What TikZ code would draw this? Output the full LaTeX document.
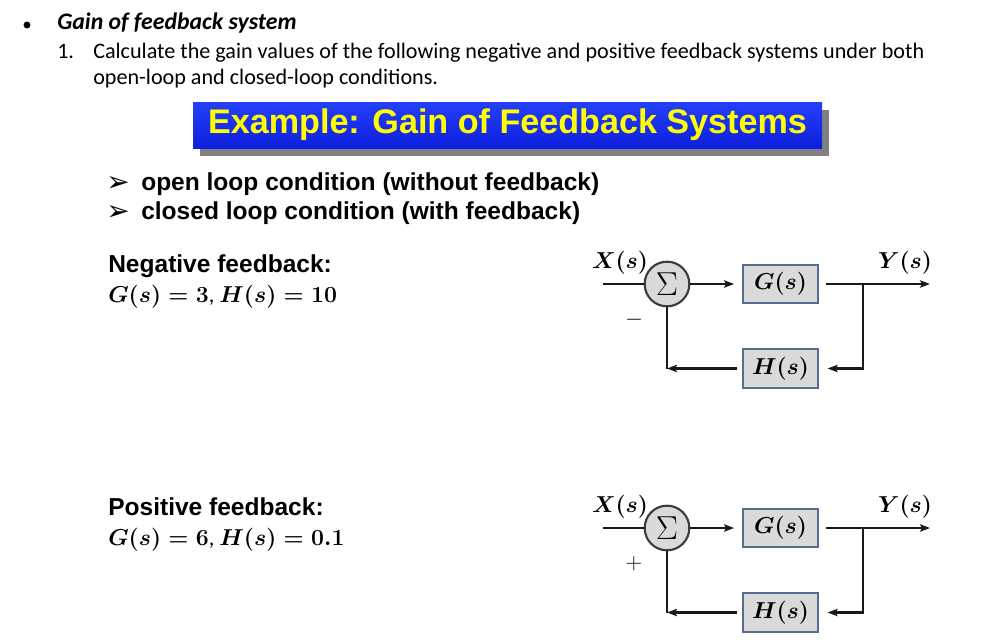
\documentclass[tikz,border=0pt]{standalone}
\usepackage[no-math]{fontspec}
\setmainfont{Carlito}
\newfontfamily\arialfont{Liberation Sans}
\newfontfamily\symbfont{DejaVu Sans}
\usetikzlibrary{arrows.meta, positioning, shadows, calc}
\definecolor{fbBlue}{RGB}{14,30,222}
\definecolor{fbBlueTop}{RGB}{36,64,248}
\definecolor{fbYellow}{RGB}{255,255,0}
\definecolor{fbShadow}{RGB}{128,128,128}
\definecolor{fbFill}{RGB}{218,218,218}
\definecolor{fbEdge}{RGB}{84,110,146}
\definecolor{fbLine}{RGB}{25,25,25}

\begin{document}
\begin{tikzpicture}[x=0.75pt, y=-0.75pt,
  txt/.style={anchor=base west, inner sep=0pt},
  body/.style={txt, font=\fontsize{16.6}{16.6}\selectfont},
  sans/.style={txt, font=\fontsize{18.4}{18.4}\selectfont\arialfont\bfseries},
  vals/.style={txt, font=\fontsize{16.6}{16.6}\selectfont\boldmath},
  block/.style={draw=fbEdge, line width=1.6pt, fill=fbFill, minimum width=56pt, minimum height=29pt, inner sep=0pt, font=\fontsize{17.5}{17.5}\selectfont\boldmath},
  sumnode/.style={circle, draw=fbLine!85, line width=1.6pt, fill=fbFill, minimum size=33.5pt, inner sep=0pt, font=\fontsize{27}{27}\selectfont},
  sig/.style={inner sep=0pt, font=\fontsize{16}{16}\selectfont\boldmath},
  wire/.style={line width=1.6pt, fbLine},
  arr/.style={wire, -{Stealth[length=7.5pt, width=5.5pt, inset=1.5pt]}}]

  \useasboundingbox (0,0) rectangle (998,643);

  % task text
  \fill (27,25) circle (2.6pt);
  \node[txt, font=\fontsize{17.8}{17.8}\selectfont\bfseries\itshape] (head) at (57,29) {Gain of feedback system};
  \node[body] (num) at (57,58) {1.};
  \node[body] (task1) at (93,58) {Calculate the gain values of the following negative and positive feedback systems under both};
  \node[body] (task2) at (93,84) {open-loop and closed-loop conditions.};

  % slide title
  \node[minimum width=471.75pt, minimum height=34.5pt, top color=fbBlueTop, bottom color=fbBlue,
        drop shadow={shadow xshift=5pt, shadow yshift=-6pt, fill=fbShadow, opacity=1},
        text=fbYellow, font=\fontsize{25.6}{25.6}\selectfont\arialfont\bfseries] (title) at (507.5,125) {Example: Gain of Feedback Systems};

  \node[txt, font=\fontsize{21}{21}\selectfont\symbfont] (arr1) at (106,191) {➢};
  \node[txt, font=\fontsize{21}{21}\selectfont\symbfont] (arr2) at (106,220) {➢};
  \node[sans] (open) at (141,190) {open loop condition (without feedback)};
  \node[sans] (closed) at (141,219) {closed loop condition (with feedback)};

  \node[sans] (neg) at (108,272) {Negative feedback:};
  \node[vals] (negval) at (108,302) {$G(s)=3$, $H(s)=10$};
  \node[sans] (pos) at (108,515) {Positive feedback:};
  \node[vals] (posval) at (108,545) {$G(s)=6$, $H(s)=0.1$};

  % block diagrams
  \foreach \dy/\sg/\k in {0/-/1, 244/+/2} {
    \node[sumnode] (sum\k) at (667,284+\dy) {$\Sigma$};
    \node[block] (g\k) at (780.5,284+\dy) {$G(s)$};
    \node[block] (h\k) at (780.5,368.5+\dy) {$H(s)$};
    \node[sig] (x\k) at (620,263+\dy) {$X(s)$};
    \node[sig] (y\k) at (905,263+\dy) {$Y(s)$};
    \node[inner sep=0pt, font=\fontsize{17}{17}\selectfont] (sg\k) at (634,320+\dy) {$\sg$};
    \coordinate (in\k) at (603,284+\dy);
    \coordinate (out\k) at (930,284+\dy);
    \coordinate (tap\k) at (863,284+\dy);
    \coordinate (back\k) at (sum\k |- h\k);
    \draw[wire] (in\k) -- (sum\k);
    \draw[arr, shorten >=6pt] (sum\k) -- (g\k);
    \draw[wire] ([xshift=5pt]g\k.east) -- (tap\k);
    \draw[arr] (tap\k) -- (out\k);
    \draw[arr, shorten >=6.5pt] (tap\k) |- (h\k);
    \draw[arr] ([xshift=-4pt]h\k.west) -- (back\k);
    \draw[wire] (back\k) -- (sum\k);
  }
\end{tikzpicture}
\end{document}
